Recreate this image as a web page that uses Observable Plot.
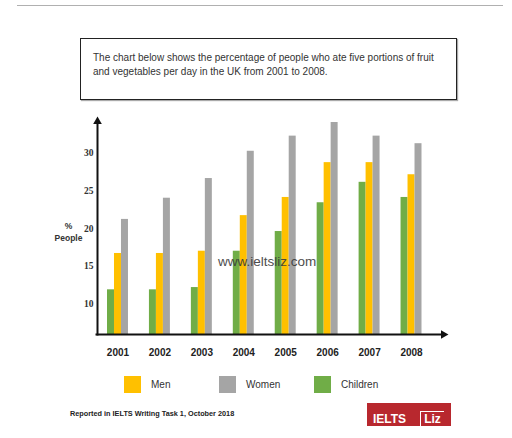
<!DOCTYPE html>
<html><head><meta charset="utf-8">
<script src="https://cdn.jsdelivr.net/npm/d3@7"></script>
<script src="https://cdn.jsdelivr.net/npm/@observablehq/plot@0.6"></script>
<style>
body{margin:0;background:#fff;}
#page{position:relative;width:512px;height:438px;overflow:hidden;font-family:"Liberation Sans",Arial,sans-serif;color:#333;}
#topline{position:absolute;left:17px;top:4.5px;width:486px;height:1.5px;background:#b0b0b0;}
#box{position:absolute;left:80px;top:37.5px;width:377px;height:62px;box-sizing:border-box;border:1.5px solid #222;box-shadow:1px 1px 1px #aaa;}
#title{position:absolute;left:93px;top:51px;font-size:10px;line-height:13.6px;white-space:nowrap;color:#333;}
#chart{position:absolute;left:0;top:110px;}
#ylab{position:absolute;left:50px;top:221px;width:37px;text-align:center;font-size:8.5px;font-weight:bold;line-height:11.5px;color:#333;}
#wm{position:absolute;left:218px;top:254px;font-size:13.5px;line-height:16px;color:#3a3a3a;opacity:0.9;white-space:nowrap;}
#legend{position:absolute;left:124px;top:376px;}
#legend .lg-swatches{margin:0;min-height:0;font-family:"Liberation Sans",Arial,sans-serif;font-size:10px;color:#333;}
#legend .lg-swatch{width:95px;margin:0;}
#legend .lg-swatch > svg{margin-right:10px;}
#foot{position:absolute;left:70px;top:409px;font-size:7.3px;line-height:9px;font-weight:bold;color:#222;white-space:nowrap;}
#logo{position:absolute;left:367px;top:403px;width:84px;height:23px;background:#b8282e;overflow:hidden;}
#logo .t{position:absolute;left:6px;top:9.5px;font-family:"Liberation Sans Narrow","Liberation Sans",Arial,sans-serif;font-size:12px;font-weight:bold;color:#fff;line-height:12px;white-space:nowrap;}
#logo .liz{border-left:1.5px solid #fff;border-top:1.5px solid #fff;padding:0 3px;margin-left:14px;}
</style>
</head><body>
<div id="page">
  <div id="topline"></div>
  <div id="box"></div>
  <div id="title">The chart below shows the percentage of people who ate five portions of fruit<br>and vegetables per day in the UK from 2001 to 2008.</div>
  <div id="chart"></div>
  <div id="ylab">%<br>People</div>
  <div id="legend"></div>
  <div id="foot">Reported in IELTS Writing Task 1, October 2018</div>
  <div id="logo"><div class="t">IELTS<span class="liz">Liz</span></div></div>
  <div id="wm">www.ieltsliz.com</div>
</div>
<script>
const years = ["2001","2002","2003","2004","2005","2006","2007","2008"];
const men      = [16.7, 16.7, 17.0, 21.7, 24.1, 28.7, 28.7, 27.1];
const women    = [21.2, 24.0, 26.6, 30.2, 32.2, 34.0, 32.2, 31.2];
const children = [11.9, 11.9, 12.2, 17.0, 19.6, 23.4, 26.1, 24.1];
const series = ["Men", "Women", "Children"];
const barOrder = ["Children", "Men", "Women"];
const colors = ["#FFC000", "#A5A5A5", "#70AD47"];
const yDomain = [6, 34];
const yTicks = [10, 15, 20, 25, 30];

// axis lines extend beyond the outer bar groups
const axisGapLeft = 10;
const axisExtraRight = 21.5;

const valuesBySeries = {Men: men, Women: women, Children: children};
const rows = years.flatMap((year, i) => barOrder.map(group => ({year, group, value: valuesBySeries[group][i]})));

const chart = Plot.plot({
  width: 512, height: 255,
  marginTop: 12, marginBottom: 31, marginLeft: 107, marginRight: 90.5,
  style: {fontFamily: "Liberation Sans, Arial, sans-serif", background: "transparent", overflow: "visible", color: "#222"},
  fx: {domain: years, paddingInner: 0.5, paddingOuter: 0, round: false, label: null},
  x: {domain: barOrder, padding: 0, round: false, axis: null},
  y: {domain: yDomain, label: null},
  color: {domain: series, range: colors},
  marks: [
    Plot.barY(rows, {fx: "year", x: "group", y1: yDomain[0], y2: "value", fill: "group"}),
    Plot.axisFx({anchor: "bottom", tickSize: 0, tickPadding: 14, fontSize: 10, fontWeight: "bold", label: null, fill: "#222"}),
    Plot.axisY({ticks: yTicks, tickSize: 0, tickPadding: 14, fontSize: 9.5, fontWeight: "bold", fontFamily: "Liberation Serif, serif", label: null, fill: "#333"}),
    Plot.frame({anchor: "left", facet: "super", stroke: "#111", strokeWidth: 2, insetLeft: -axisGapLeft}),
    Plot.frame({anchor: "bottom", facet: "super", stroke: "#111", strokeWidth: 2, insetLeft: -axisGapLeft - 1, insetRight: -axisExtraRight}),
    Plot.dot([0], {frameAnchor: "top-left", dx: -axisGapLeft, dy: -1, symbol: "triangle", r: 3.2, fill: "#111", stroke: null, facet: "super"}),
    Plot.dot([0], {frameAnchor: "bottom-right", dx: axisExtraRight, symbol: "triangle", r: 3.2, rotate: 90, fill: "#111", stroke: null, facet: "super"})
  ]
});
document.getElementById("chart").appendChild(chart);

const legend = Plot.legend({color: {domain: series, range: colors}, legend: "swatches", swatchSize: 17, className: "lg"});
document.getElementById("legend").appendChild(legend);
</script>
</body></html>
